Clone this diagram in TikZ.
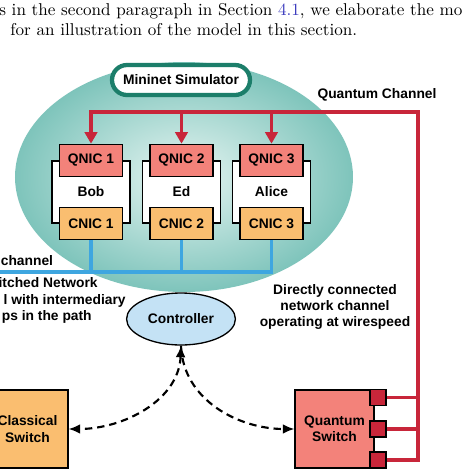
\documentclass[tikz,border=0pt]{standalone}
\usepackage{fontspec}
\usepackage{xcolor}
\newfontfamily\labelfont{Liberation Sans}
\usetikzlibrary{shapes.geometric,arrows.meta}
\newcommand\pxu{0.608pt}
\definecolor{qnicfill}{RGB}{243,130,122}
\definecolor{cnicfill}{RGB}{250,190,112}
\definecolor{qred}{RGB}{200,38,58}
\definecolor{cblue}{RGB}{62,166,224}
\definecolor{mngreen}{RGB}{28,126,106}
\definecolor{ctrlfill}{RGB}{196,226,245}
\definecolor{tealout}{RGB}{126,196,187}
\definecolor{tealin}{RGB}{230,245,242}
\definecolor{linkblue}{RGB}{60,60,190}

\begin{document}
\begin{tikzpicture}[
  x=0.608pt, y=-0.608pt,
  lbl/.style={font=\fontsize{8.4}{10}\labelfont\bfseries},
  txt/.style={lbl,inner sep=0pt},
  body/.style={font=\fontsize{10.4}{12.5}\selectfont,anchor=base west,inner sep=0pt},
  cloud/.style={ellipse,shading=radial,inner color=tealin,outer color=tealout,minimum width=338*\pxu,minimum height=230*\pxu},
  mnbox/.style={lbl,draw=mngreen,line width=2.6pt,fill=white,rounded corners=15*\pxu,minimum width=138*\pxu,minimum height=30*\pxu},
  host/.style={lbl,draw,line width=0.8pt,fill=white,minimum width=78*\pxu,minimum height=62*\pxu},
  qnic/.style={lbl,draw,line width=0.8pt,fill=qnicfill,minimum width=63*\pxu,minimum height=32*\pxu},
  cnic/.style={lbl,draw,line width=0.8pt,fill=cnicfill,minimum width=63*\pxu,minimum height=32*\pxu},
  ctrl/.style={lbl,ellipse,draw,line width=0.8pt,fill=ctrlfill,minimum width=96*\pxu,minimum height=52*\pxu},
  swbox/.style={lbl,draw,line width=0.8pt,align=center,minimum height=78*\pxu},
  port/.style={draw,line width=0.8pt,fill=qred,minimum size=16*\pxu,inner sep=0pt},
  qchan/.style={qred,line width=2.4pt},
  cchan/.style={cblue,line width=2.4pt},
  qtip/.style={-{Triangle[length=7pt,width=7.5pt]}},
  ctrlarr/.style={line width=1.3pt,dash pattern=on 4.5pt off 3pt}
]
  \useasboundingbox (0,0) rectangle (474,474);
  \clip (0,0) rectangle (474,474);
  \fill[white] (0,0) rectangle (474,474);
  \node[body] (para1) at (-1,15) {s in the second paragraph in Section \textcolor{linkblue}{4.1}, we elaborate the mo};
  \node[body] (para2) at (10,35) {for an illustration of the model in this section.};
  \node[cloud] (sim) at (184,177) {};
  \node[mnbox] (mn) at (181,80) {Mininet Simulator};
  \node[txt] (qclabel) at (377,95) {Quantum Channel};
  \node[host] (bob) at (91,192) {Bob};
  \node[host] (ed) at (181.5,192) {Ed};
  \node[host] (alice) at (271.5,192) {Alice};
  \node[qnic] (q1) at (bob.north) {QNIC 1};
  \node[qnic] (q2) at (ed.north) {QNIC 2};
  \node[qnic] (q3) at (alice.north) {QNIC 3};
  \node[cnic] (c1) at (bob.south) {CNIC 1};
  \node[cnic] (c2) at (ed.south) {CNIC 2};
  \node[cnic] (c3) at (alice.south) {CNIC 3};
  \node[ctrl] (ctrl) at (181,319) {Controller};
  \node[swbox,fill=cnicfill,minimum width=81*\pxu] (cs) at (27.5,429) {Classical\\Switch};
  \node[swbox,fill=qnicfill,minimum width=79*\pxu] (qs) at (334.5,429) {Quantum\\Switch};
  \node[port] (p1) at (378,397.5) {};
  \node[port] (p2) at (378,429) {};
  \node[port] (p3) at (378,460) {};
  \node[txt,align=center] (dclabel) at (335,307) {Directly connected\\network channel\\operating at wirespeed};
  \node[txt,anchor=west] (cclabel) at (0.5,261) {channel};
  \node[txt,anchor=east] (sn1) at (98,283) {itched Network};
  \node[txt,anchor=east] (sn2) at (126,301) {l with intermediary};
  \node[txt,anchor=east] (sn3) at (92,317) {ps in the path};
  \coordinate (qcorner) at (418,112);
  \coordinate (cleft) at (-5,272);
  \draw[qchan,qtip] (p3.east) -- (p3.east -| qcorner) -- (qcorner) -- (q1.north |- qcorner) -- (q1.north);
  \draw[qchan,qtip] (q2.north |- qcorner) -- (q2.north);
  \draw[qchan,qtip] (q3.north |- qcorner) -- (q3.north);
  \draw[qchan] (p1.east) -- (p1.east -| qcorner);
  \draw[qchan] (p2.east) -- (p2.east -| qcorner);
  \draw[cchan] (cleft) -- (cleft -| c3.south) -- (c3.south);
  \draw[cchan] (c1.south) -- (c1.south |- cleft);
  \draw[cchan] (c2.south) -- (c2.south |- cleft);
  \draw[ctrlarr,{Latex[length=7pt,width=6pt]}-{Latex[length=7pt,width=6pt]}] (ctrl.south) to[out=-92,in=0] (cs.east);
  \draw[ctrlarr,-{Latex[length=7pt,width=6pt]}] (ctrl.south) to[out=-88,in=180] (qs.west);
\end{tikzpicture}
\end{document}
